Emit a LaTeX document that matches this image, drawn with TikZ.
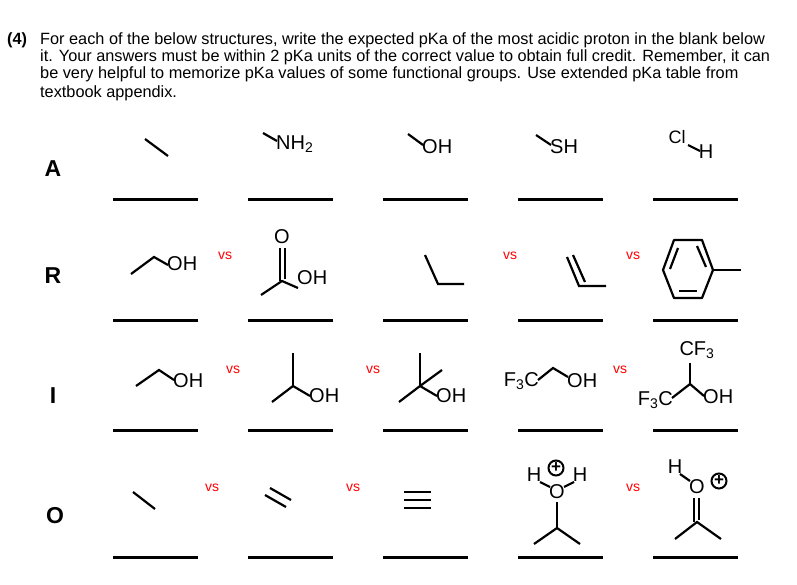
\documentclass[tikz,border=0pt]{standalone}
\usepackage{fontspec}
\setmainfont{Liberation Sans}
\begin{document}
\begin{tikzpicture}[x=1pt,y=-1pt,
  bond/.style={line width=2.2pt},
  blank/.style={line width=3pt},
  atom/.style={inner sep=0pt,font=\fontsize{20}{22}\selectfont},
  vs/.style={inner sep=0pt,text=red,font=\fontsize{14}{16}\selectfont},
  row/.style={inner sep=0pt,font=\fontsize{23}{26}\selectfont\bfseries},
  hdr/.style={inner sep=0pt,anchor=west,font=\fontsize{16.3}{18}\selectfont},
  pc/.style={circle,draw,line width=2pt,inner sep=0pt,minimum size=15pt,font=\fontsize{17}{17}\selectfont\bfseries}]
\useasboundingbox (0,0) rectangle (797,585);
% header
\node[hdr,font=\fontsize{16.3}{18}\selectfont\bfseries] (n4) at (7,40) {(4)};
\node[hdr] (h1) at (40,40) {For each of the below structures, write the expected pKa of the most acidic proton in the blank below};
\node[hdr] (h2) at (40,57) {it. Your answers must be within 2 pKa units of the correct value to obtain full credit. Remember, it can};
\node[hdr] (h3) at (40,74) {be very helpful to memorize pKa values of some functional groups. Use extended pKa table from};
\node[hdr] (h4) at (40,93) {textbook appendix.};
% row labels
\node[row] (rA) at (53,169) {A};
\node[row] (rR) at (53,276) {R};
\node[row] (rI) at (53,396) {I};
\node[row] (rO) at (55,516) {O};
% blanks
\foreach \y in {200,320,430,557}{
  \foreach \x in {113,248,383,518,653}{
    \draw[blank] (\x,\y) -- +(85,0);}}
% ---- row A
\draw[bond] (145,139) -- (168,156);
\node[atom,anchor=west] (nh2) at (276,144) {NH\textsubscript{2}};
\draw[bond] (263,133) -- (277,141);
\node[atom,anchor=west] (oh1) at (422,147) {OH};
\draw[bond] (408,134) -- (423,145);
\node[atom,anchor=west] (sh) at (550,147) {SH};
\draw[bond] (536,135) -- (551,145);
\node[atom,font=\fontsize{18}{20}\selectfont] (cl) at (677,137) {Cl};
\node[atom] (h) at (706,152) {H};
\draw[bond] (688,145) -- (700,151);
% ---- row R
\node[atom,anchor=west] (oh2) at (167,264) {OH};
\draw[bond] (131,274) -- (154,257) -- (168,265);
\node[vs] (v1) at (225,256) {vs};
\node[atom] (o3) at (282,237) {O};
\node[atom,anchor=west] (oh3) at (297,278) {OH};
\draw[bond] (261,295) -- (282,281) -- (298,288);
\draw[bond] (280,248) -- (280,281);
\draw[bond] (285,248) -- (285,279);
\draw[bond] (425,255) -- (438,284) -- (464,284);
\node[vs] (v2) at (510,256) {vs};
\draw[bond] (567,257) -- (579,286) -- (606,286);
\draw[bond] (573,255) -- (585,282);
\node[vs] (v3) at (633,256) {vs};
\draw[bond,line join=round] (663,270) -- (674,240) -- (702,240) -- (713,270) -- (702,298) -- (674,298) -- cycle;
\draw[bond] (713,270) -- (741,270);
\draw[bond] (670,269) -- (678,248);
\draw[bond] (697,246) -- (706,267);
\draw[bond] (679,291) -- (697,291);
% ---- row I
\node[atom,anchor=west] (oh4) at (173,381) {OH};
\draw[bond] (136,386) -- (159,370) -- (174,380);
\node[vs] (v4) at (233,370) {vs};
\node[atom,anchor=west] (oh5) at (309,396) {OH};
\draw[bond] (272,402) -- (293,386) -- (310,396);
\draw[bond] (293,386) -- (293,353);
\node[vs] (v5) at (373,370) {vs};
\node[atom,anchor=west] (oh6) at (436,396) {OH};
\draw[bond] (399,402) -- (420,386) -- (437,396);
\draw[bond] (420,386) -- (420,353);
\draw[bond] (420,386) -- (442,370);
\node[atom,anchor=east] (f3c1) at (539,381) {F\textsubscript{3}C};
\node[atom,anchor=west] (oh7) at (567,381) {OH};
\draw[bond] (538,380) -- (553,368) -- (568,377);
\node[vs] (v6) at (620,370) {vs};
\node[atom] (cf3) at (697,350) {CF\textsubscript{3}};
\node[atom,anchor=east] (f3c2) at (673,400) {F\textsubscript{3}C};
\node[atom,anchor=west] (oh8) at (703,397) {OH};
\draw[bond] (672,398) -- (690,384) -- (704,396);
\draw[bond] (690,384) -- (690,363);
% ---- row O
\draw[bond] (133,492) -- (155,509);
\node[vs] (v7) at (212,488) {vs};
\draw[bond] (265,495) -- (286,507);
\draw[bond] (270,488) -- (291,500);
\node[vs] (v8) at (353,488) {vs};
\draw[line width=2.6pt] (404,492) -- (431,492);
\draw[line width=2.6pt] (404,500) -- (431,500);
\draw[line width=2.6pt] (404,508) -- (431,508);
\node[atom] (o9) at (557,492) {O};
\node[atom] (h9a) at (534,475) {H};
\node[atom] (h9b) at (580,475) {H};
\node[pc] (p9) at (556,468) {+};
\draw[bond] (540,482) -- (550,487);
\draw[bond] (574,482) -- (564,487);
\draw[bond] (557,502) -- (557,528);
\draw[bond] (534,544) -- (557,528) -- (580,544);
\node[vs] (v9) at (633,488) {vs};
\node[atom] (o10) at (697,487) {O};
\node[atom] (h10) at (675,467) {H};
\node[pc] (p10) at (719,481) {+};
\draw[bond] (680,474) -- (690,481);
\draw[bond] (694,498) -- (694,522);
\draw[bond] (699,498) -- (699,520);
\draw[bond] (675,539) -- (697,522) -- (721,539);
\end{tikzpicture}
\end{document}
